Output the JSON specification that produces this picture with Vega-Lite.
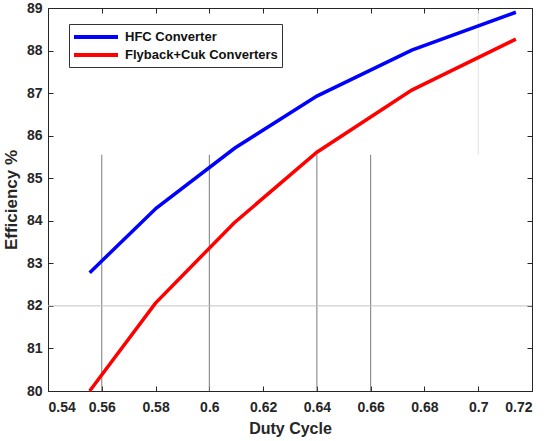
{
  "$schema": "https://vega.github.io/schema/vega-lite/v6.json",
  "width": 484,
  "height": 383,
  "autosize": {"type": "none"},
  "padding": {"left": 48, "top": 8, "right": 18, "bottom": 50},
  "background": "white",
  "config": {
    "view": {"stroke": null},
    "font": "Liberation Sans",
    "axis": {
      "grid": false,
      "labelFont": "Liberation Sans",
      "labelFontWeight": "bold",
      "labelFontSize": 14,
      "labelColor": "#262626",
      "titleFont": "Liberation Sans",
      "titleFontWeight": "bold",
      "titleFontSize": 16,
      "titleColor": "#262626",
      "domainColor": "#262626",
      "tickColor": "#262626",
      "tickSize": -5
    },
    "legend": {
      "labelFont": "Liberation Sans",
      "labelFontWeight": "bold",
      "labelFontSize": 13,
      "labelColor": "#111"
    }
  },
  "datasets": {
    "curves": [
      {"duty": 0.5555, "eff": 82.78, "series": "HFC Converter"},
      {"duty": 0.5803, "eff": 84.3, "series": "HFC Converter"},
      {"duty": 0.6095, "eff": 85.71, "series": "HFC Converter"},
      {"duty": 0.64, "eff": 86.93, "series": "HFC Converter"},
      {"duty": 0.6753, "eff": 88.01, "series": "HFC Converter"},
      {"duty": 0.714, "eff": 88.9, "series": "HFC Converter"},
      {"duty": 0.5555, "eff": 80.0, "series": "Flyback+Cuk Converters"},
      {"duty": 0.5799, "eff": 82.06, "series": "Flyback+Cuk Converters"},
      {"duty": 0.6092, "eff": 83.95, "series": "Flyback+Cuk Converters"},
      {"duty": 0.64, "eff": 85.61, "series": "Flyback+Cuk Converters"},
      {"duty": 0.6753, "eff": 87.07, "series": "Flyback+Cuk Converters"},
      {"duty": 0.714, "eff": 88.27, "series": "Flyback+Cuk Converters"}
    ],
    "marks": [
      {"x": 0.56, "x2": 0.56, "y": 80, "y2": 85.55, "kind": "dark"},
      {"x": 0.6, "x2": 0.6, "y": 80, "y2": 85.55, "kind": "dark"},
      {"x": 0.64, "x2": 0.64, "y": 80, "y2": 85.55, "kind": "dark"},
      {"x": 0.66, "x2": 0.66, "y": 80, "y2": 85.55, "kind": "dark"},
      {"x": 0.7, "x2": 0.7, "y": 85.55, "y2": 88.95, "kind": "faint"},
      {"x": 0.54, "x2": 0.72, "y": 82, "y2": 82, "kind": "light"}
    ]
  },
  "layer": [
    {
      "data": {"name": "marks"},
      "mark": {"type": "rule", "strokeWidth": 1},
      "encoding": {
        "x": {
          "field": "x", "type": "quantitative",
          "scale": {"domain": [0.54, 0.72], "nice": false, "zero": false},
          "axis": {"orient": "top", "labels": false, "title": null,
                   "values": [0.54, 0.56, 0.58, 0.6, 0.62, 0.64, 0.66, 0.68, 0.7, 0.72]}
        },
        "x2": {"field": "x2"},
        "y": {
          "field": "y", "type": "quantitative",
          "scale": {"domain": [80, 89], "nice": false, "zero": false},
          "axis": {"orient": "right", "labels": false, "title": null,
                   "values": [80, 81, 82, 83, 84, 85, 86, 87, 88, 89]}
        },
        "y2": {"field": "y2"},
        "color": {
          "field": "kind", "type": "nominal",
          "scale": {"domain": ["dark", "light", "faint"], "range": ["#7a7a7a", "#c4c4c4", "#e2e2e2"]},
          "legend": null
        }
      }
    },
    {
      "data": {"name": "curves"},
      "mark": {"type": "line", "strokeWidth": 3.5},
      "encoding": {
        "x": {
          "field": "duty", "type": "quantitative",
          "scale": {"domain": [0.54, 0.72], "nice": false, "zero": false},
          "axis": {"orient": "bottom", "title": "Duty Cycle", "format": ".2~f",
                   "labelPadding": 14, "titlePadding": 6,
                   "values": [0.54, 0.56, 0.58, 0.6, 0.62, 0.64, 0.66, 0.68, 0.7, 0.72]}
        },
        "y": {
          "field": "eff", "type": "quantitative",
          "scale": {"domain": [80, 89], "nice": false, "zero": false},
          "axis": {"orient": "left", "title": "Efficiency %", "titleFontSize": 17,
                   "labelPadding": 11, "titlePadding": 6,
                   "values": [80, 81, 82, 83, 84, 85, 86, 87, 88, 89]}
        },
        "color": {
          "field": "series", "type": "nominal",
          "scale": {"domain": ["HFC Converter", "Flyback+Cuk Converters"], "range": ["#0000ff", "#ff0000"]},
          "legend": {
            "title": null,
            "orient": "none",
            "legendX": 21,
            "legendY": 16,
            "symbolType": "M-3.143,0H3.143",
            "symbolStrokeWidth": 4,
            "symbolSize": 196,
            "symbolOffset": 14,
            "labelOffset": 20,
            "strokeColor": "#333333",
            "fillColor": "white",
            "padding": 4,
            "rowPadding": 1
          }
        }
      }
    }
  ],
  "resolve": {
    "scale": {"color": "independent"},
    "axis": {"x": "independent", "y": "independent"}
  }
}
